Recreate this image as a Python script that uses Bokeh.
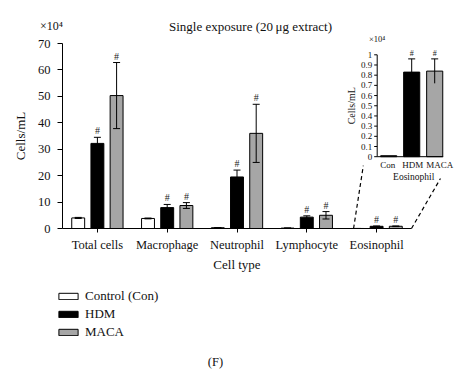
import numpy as np
from bokeh.plotting import figure
from bokeh.models import Range1d, Legend, LegendItem, FixedTicker
from bokeh.core.properties import value
from bokeh.embed import file_html
from bokeh.resources import INLINE

FONT = "Liberation Serif"

# ---------------- data ----------------
categories = ["Total cells", "Macrophage", "Neutrophil", "Lymphocyte", "Eosinophil"]
series_names = ["Control (Con)", "HDM", "MACA"]
control = [4.0, 3.8, 0.3, 0.15, 0.01]
control_err = [0.2, 0.15, 0.0, 0.0, 0.0]
hdm = [32.2, 7.9, 19.5, 4.3, 0.83]
hdm_err = [2.3, 1.2, 2.6, 0.5, 0.13]
maca = [50.3, 8.7, 36.0, 5.0, 0.84]
maca_err = [12.5, 1.1, 11.0, 1.4, 0.12]
hdm_sig = ["#", "#", "#", "#", "#"]
maca_sig = ["#", "#", "#", "#", "#"]
y_ticks = [0, 10, 20, 30, 40, 50, 60, 70]

inset_groups = ["Con", "HDM", "MACA"]
inset_values = [0.01, 0.83, 0.84]
inset_err = [0.0, 0.13, 0.12]
inset_sig = ["", "#", "#"]
inset_ticks = [0, 0.1, 0.2, 0.3, 0.4, 0.5, 0.6, 0.7, 0.8, 0.9, 1.0]
inset_tick_labels = ["0", "0.1", "0.2", "0.3", "0.4", "0.5", "0.6", "0.7", "0.8", "0.9", "1"]

title_text = "Single exposure (20\u2009\u03bcg extract)"
scale_text = "\u00d710\u2074"
panel_tag = "(F)"

colors = ["white", "black", "#a6a6a6"]

# ---------------- layout constants (canvas pixels) ----------------
W, H = 470, 377
AXIS_X = 62.0            # main y axis
Y0_PX, Y70_PX = 228.0, 43.0
CAT_PX = 69.8
PX_PER_UNIT = (Y0_PX - Y70_PX) / y_ticks[-1]
OFFS = [-0.275, 0.0, 0.275]
BAR_W = 0.185

IN_AXIS_X = 376.7
IN_UX = 23.0
IN_BASE_Y = 156.2
IN_UY = 101.9
IN_XEND = 2.87
IN_LABEL_DX = [-1, 1, 5]


def mx(px):
    return (px - AXIS_X) / CAT_PX


def my(py):
    return (Y0_PX - py) / PX_PER_UNIT


p = figure(width=W, height=H, x_range=Range1d(mx(0), mx(W)), y_range=Range1d(my(H), my(0)),
           output_backend="svg", toolbar_location=None, title=None,
           min_border_left=0, min_border_right=0, min_border_top=0, min_border_bottom=0)
p.outline_line_color = None
p.grid.visible = False

p.extra_x_ranges = {"ix": Range1d((0 - IN_AXIS_X) / IN_UX, (W - IN_AXIS_X) / IN_UX)}
p.extra_y_ranges = {"iy": Range1d((IN_BASE_Y - H) / IN_UY, IN_BASE_Y / IN_UY)}

# ---------------- main bars ----------------
centers = [i + 0.5 for i in range(len(categories))]
renderers = []
for vals, errs, col, off in zip([control, hdm, maca], [control_err, hdm_err, maca_err], colors, OFFS):
    xs = [c + off for c in centers]
    r = p.vbar(x=xs, top=vals, width=BAR_W, fill_color=col, line_color="black", line_width=1)
    renderers.append(r)
    up = [v + e for v, e in zip(vals, errs)]
    lo = [v - e for v, e in zip(vals, errs)]
    p.segment(x0=xs, y0=lo, x1=xs, y1=up, line_color="black", line_width=1)
    p.scatter(x=xs, y=up, marker="dash", size=7, line_color="black", line_width=1)
    p.scatter(x=xs, y=lo, marker="dash", size=7, line_color="black", line_width=1)

for vals, errs, sig, off in zip([hdm, maca], [hdm_err, maca_err], [hdm_sig, maca_sig], OFFS[1:]):
    xs = [c + off for c in centers]
    p.text(x=xs, y=[v + e for v, e in zip(vals, errs)], text=sig, text_align="center",
           text_baseline="bottom", y_offset=-1, text_font=value(FONT),
           text_font_size=value("10px"), text_color="#222222")

# axes drawn at data 0 (no side-panel space)
p.xaxis.fixed_location = 0
p.yaxis.fixed_location = 0
p.xaxis.ticker = FixedTicker(ticks=centers)
p.xaxis.major_label_overrides = {c: n for c, n in zip(centers, categories)}
p.xaxis.bounds = (0, len(categories))
p.xaxis.axis_label = "Cell type"
p.yaxis.ticker = FixedTicker(ticks=y_ticks)
p.yaxis.bounds = (0, y_ticks[-1])
p.yaxis.axis_label = "Cells/mL"
for ax in (p.xaxis, p.yaxis):
    ax.axis_line_color = "black"
    ax.major_tick_line_color = "black"
    ax.minor_tick_line_color = None
    ax.major_tick_in = 0
    ax.major_label_text_font = FONT
    ax.major_label_text_font_size = "12.5px"
    ax.major_label_text_color = "#111111"
    ax.axis_label_text_font = FONT
    ax.axis_label_text_font_size = "13px"
    ax.axis_label_text_font_style = "normal"
    ax.axis_label_text_color = "#111111"
p.xaxis.major_tick_out = 4
p.xaxis.major_label_standoff = 5
p.xaxis.axis_label_standoff = 2
p.yaxis.major_tick_out = 5
p.yaxis.major_label_standoff = 7
p.yaxis.axis_label_standoff = 7

# ---------------- inset ----------------
ixs = [i + 0.5 for i in range(len(inset_groups))]
for i, (v, col) in enumerate(zip(inset_values, colors)):
    p.vbar(x=[ixs[i]], top=[v], width=0.7, fill_color=col, line_color="black", line_width=1,
           x_range_name="ix", y_range_name="iy")
iup = [v + e for v, e in zip(inset_values, inset_err)]
ilo = [v - e for v, e in zip(inset_values, inset_err)]
p.segment(x0=ixs[1:], y0=ilo[1:], x1=ixs[1:], y1=iup[1:], line_color="black", line_width=1,
          x_range_name="ix", y_range_name="iy")
p.scatter(x=ixs[1:], y=iup[1:], marker="dash", size=7, line_color="black", line_width=1,
          x_range_name="ix", y_range_name="iy")
p.text(x=ixs, y=iup, text=inset_sig, text_align="center", text_baseline="bottom", y_offset=-1,
       text_font=value(FONT), text_font_size=value("8px"), text_color="#222222",
       x_range_name="ix", y_range_name="iy")
TICK = 3.0 / IN_UX
p.segment(x0=[0], y0=[0], x1=[0], y1=[inset_ticks[-1]], line_color="black", line_width=1,
          x_range_name="ix", y_range_name="iy")
p.segment(x0=[0], y0=[0], x1=[IN_XEND], y1=[0], line_color="black", line_width=1,
          x_range_name="ix", y_range_name="iy")
p.segment(x0=[-TICK] * len(inset_ticks), y0=inset_ticks, x1=[0] * len(inset_ticks), y1=inset_ticks,
          line_color="black", line_width=1, x_range_name="ix", y_range_name="iy")
p.text(x=[0] * len(inset_ticks), y=inset_ticks, text=inset_tick_labels, x_offset=-5,
       text_align="right", text_baseline="middle", text_font=value(FONT),
       text_font_size=value("9px"), text_color="#111111", x_range_name="ix", y_range_name="iy")
p.text(x=ixs, y=[0] * len(ixs), text=inset_groups, x_offset=IN_LABEL_DX, y_offset=3,
       text_align="center", text_baseline="top", text_font=value(FONT),
       text_font_size=value("9px"), text_color="#111111", x_range_name="ix", y_range_name="iy")
p.text(x=[ixs[1]], y=[0], text=[categories[-1]], x_offset=2, y_offset=15, text_align="center",
       text_baseline="top", text_font=value(FONT), text_font_size=value("9.5px"),
       text_color="#111111", x_range_name="ix", y_range_name="iy")
p.text(x=[0], y=[inset_ticks[-1] / 2], text=["Cells/mL"], x_offset=-26, angle=np.pi / 2,
       text_align="center", text_baseline="middle", text_font=value(FONT),
       text_font_size=value("10px"), text_color="#111111", x_range_name="ix", y_range_name="iy")
p.text(x=[0], y=[inset_ticks[-1]], text=[scale_text], y_offset=-16,
       text_align="center", text_baseline="middle", text_font=value(FONT),
       text_font_size=value("8.5px"), text_color="#111111", x_range_name="ix", y_range_name="iy")

# zoom connector lines (main data units)
p.segment(x0=[4.17, 5.0], y0=[0, 0], x1=[4.31, 5.415], y1=[23.8, 18.9],
          line_color="black", line_width=1.2, line_dash="4 3")

# ---------------- free texts ----------------
p.text(x=[mx(51)], y=[my(25)], text=[scale_text], text_align="center", text_baseline="middle",
       text_font=value(FONT), text_font_size=value("12px"), text_color="#111111")
p.text(x=[mx(250)], y=[my(26)], text=[title_text], text_align="center", text_baseline="middle",
       text_font=value(FONT), text_font_size=value("13px"), text_color="#111111")
p.text(x=[mx(215)], y=[my(361)], text=[panel_tag], text_align="center", text_baseline="middle",
       text_font=value(FONT), text_font_size=value("12.5px"), text_color="#111111")

# ---------------- legend ----------------
legend = Legend(items=[LegendItem(label=n, renderers=[r]) for n, r in zip(series_names, renderers)],
                location=(56, 37.5), orientation="vertical", glyph_width=24, glyph_height=8,
                label_height=8, spacing=2, padding=0, margin=0, label_standoff=5,
                border_line_alpha=0, background_fill_alpha=0,
                label_text_font=FONT, label_text_font_size="13px", label_text_color="#111111")
p.add_layout(legend, "center")

open("out.html", "w").write(file_html(p, INLINE))
